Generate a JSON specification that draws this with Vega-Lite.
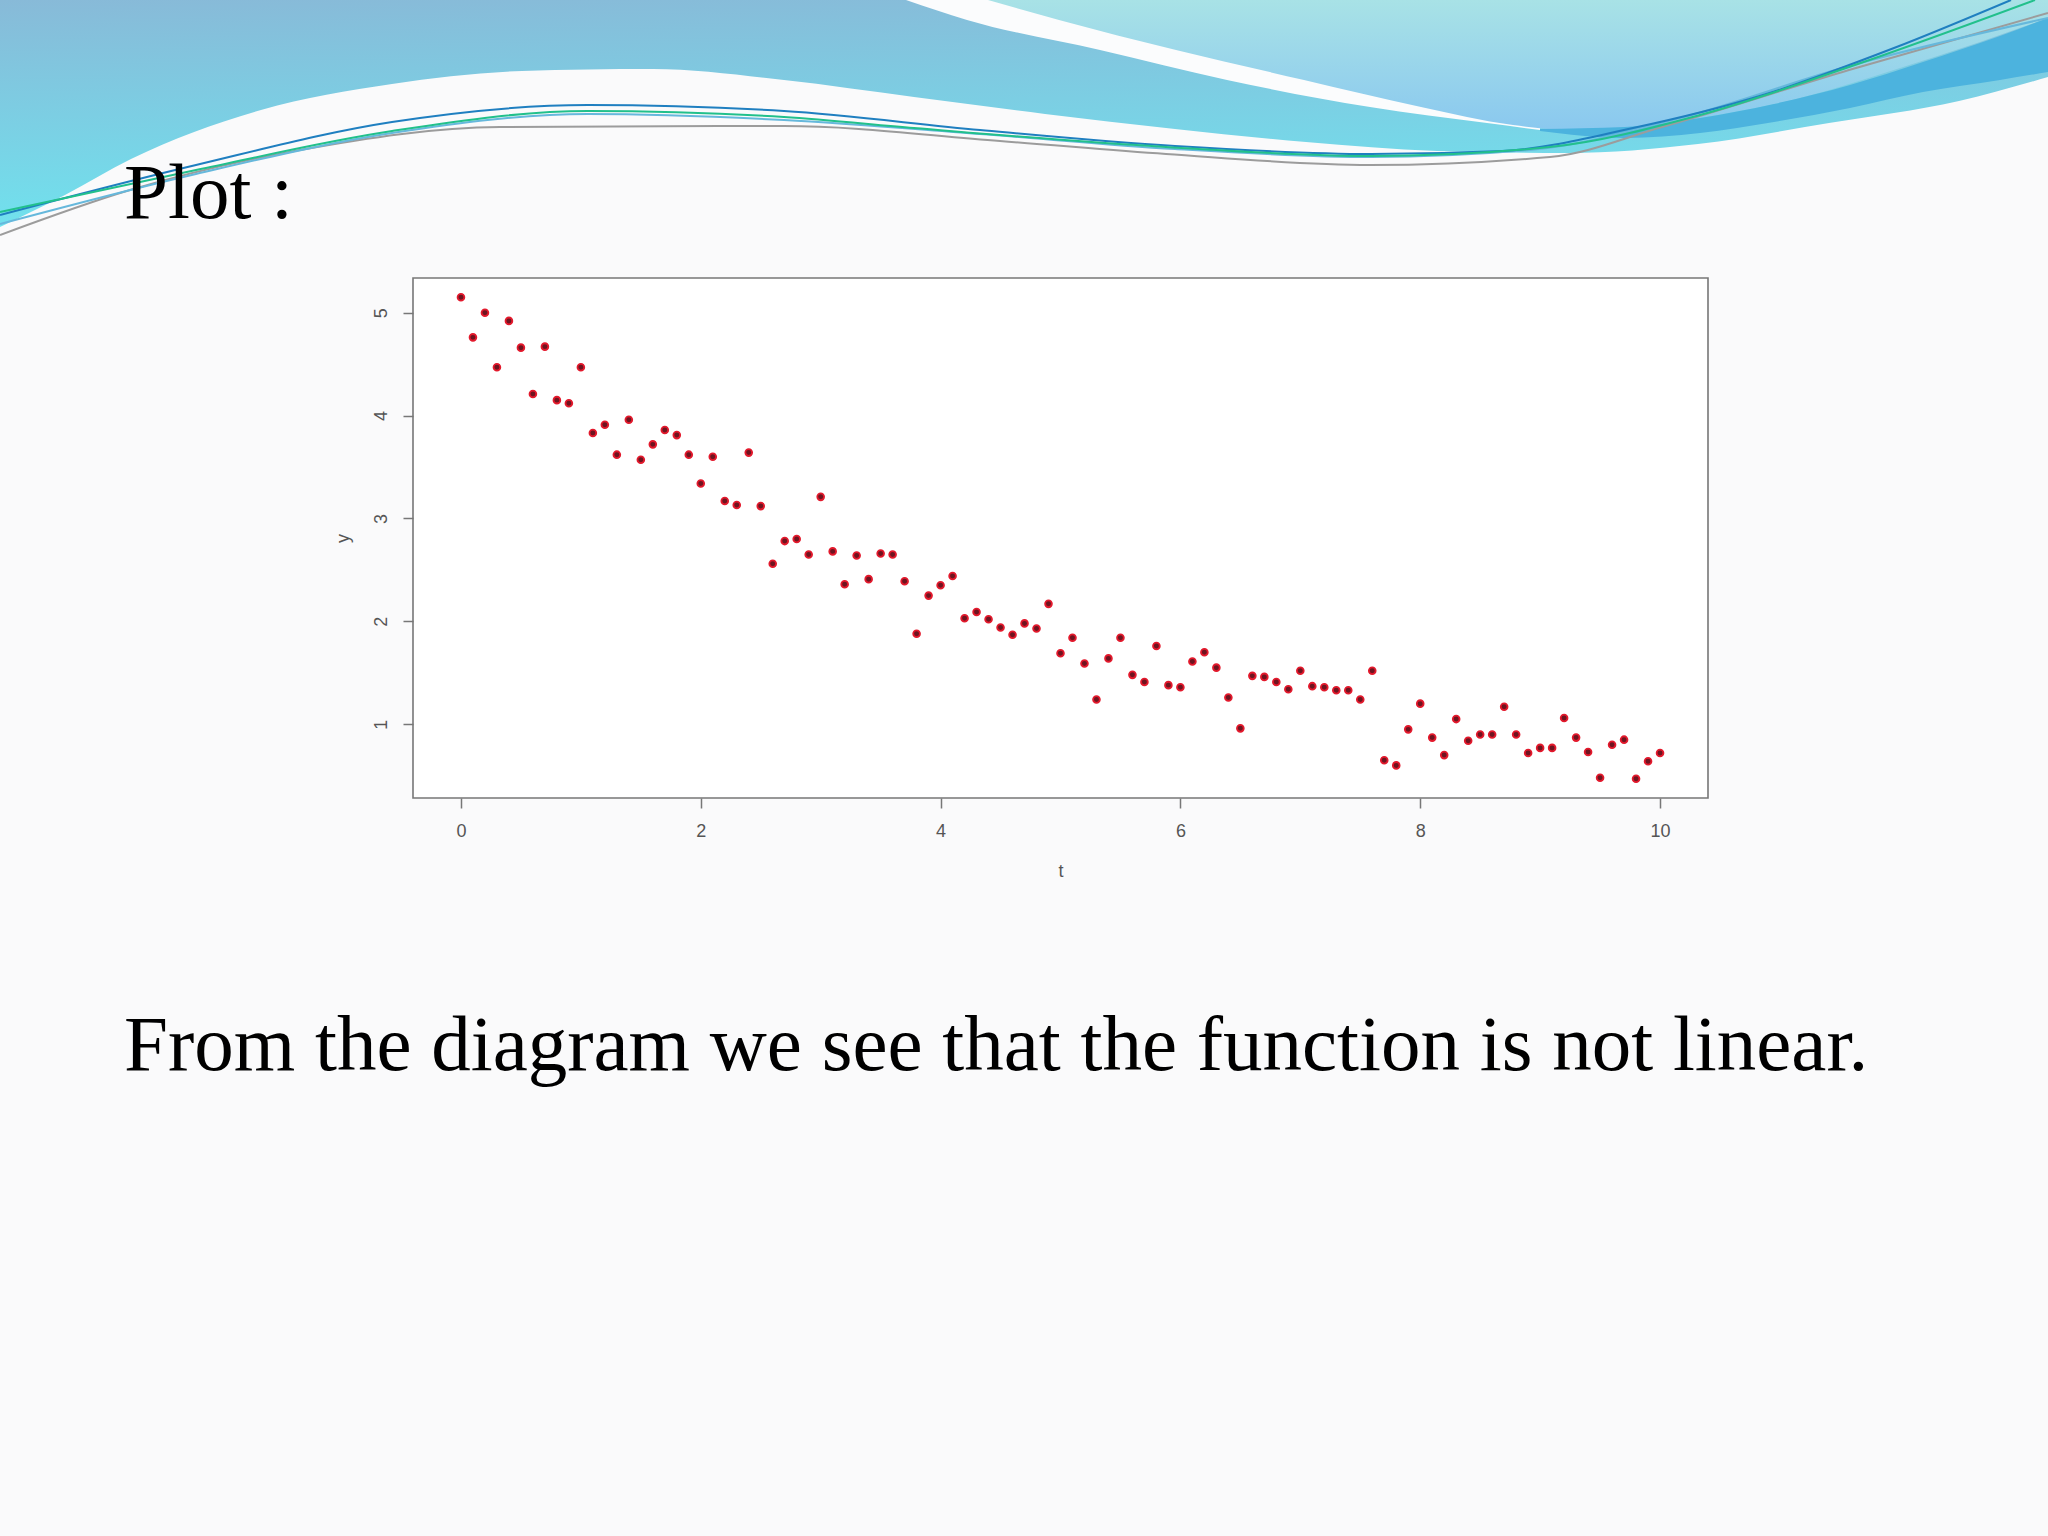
{
  "$schema": "https://vega.github.io/schema/vega-lite/v6.json",
  "autosize": "none",
  "padding": {"left": 413, "top": 278, "right": 340, "bottom": 738},
  "width": 1295,
  "height": 520,
  "background": "#fafafb",
  "config": {
    "view": {"stroke": "#777777", "strokeWidth": 1.6, "fill": "#ffffff"},
    "axis": {
      "domain": false,
      "grid": false,
      "tickSize": 10,
      "tickColor": "#777777",
      "tickWidth": 1.5,
      "labelFont": "Liberation Sans",
      "labelFontSize": 18,
      "labelColor": "#555555",
      "titleFont": "Liberation Sans",
      "titleFontSize": 18,
      "titleFontWeight": "normal",
      "titleColor": "#555555"
    }
  },
  "datasets": {
    "points": [
      {"t": 0.0, "y": 5.15}, {"t": 0.1, "y": 4.76}, {"t": 0.2, "y": 5.0}, {"t": 0.3, "y": 4.47},
      {"t": 0.4, "y": 4.92}, {"t": 0.5, "y": 4.66}, {"t": 0.6, "y": 4.21}, {"t": 0.7, "y": 4.67},
      {"t": 0.8, "y": 4.15}, {"t": 0.9, "y": 4.12}, {"t": 1.0, "y": 4.47}, {"t": 1.1, "y": 3.83},
      {"t": 1.2, "y": 3.91}, {"t": 1.3, "y": 3.62}, {"t": 1.4, "y": 3.96}, {"t": 1.5, "y": 3.57},
      {"t": 1.6, "y": 3.72}, {"t": 1.7, "y": 3.86}, {"t": 1.8, "y": 3.81}, {"t": 1.9, "y": 3.62},
      {"t": 2.0, "y": 3.34}, {"t": 2.1, "y": 3.6}, {"t": 2.2, "y": 3.17}, {"t": 2.3, "y": 3.13},
      {"t": 2.4, "y": 3.64}, {"t": 2.5, "y": 3.12}, {"t": 2.6, "y": 2.56}, {"t": 2.7, "y": 2.78},
      {"t": 2.8, "y": 2.8}, {"t": 2.9, "y": 2.65}, {"t": 3.0, "y": 3.21}, {"t": 3.1, "y": 2.68},
      {"t": 3.2, "y": 2.36}, {"t": 3.3, "y": 2.64}, {"t": 3.4, "y": 2.41}, {"t": 3.5, "y": 2.66},
      {"t": 3.6, "y": 2.65}, {"t": 3.7, "y": 2.39}, {"t": 3.8, "y": 1.88}, {"t": 3.9, "y": 2.25},
      {"t": 4.0, "y": 2.35}, {"t": 4.1, "y": 2.44}, {"t": 4.2, "y": 2.03}, {"t": 4.3, "y": 2.09},
      {"t": 4.4, "y": 2.02}, {"t": 4.5, "y": 1.94}, {"t": 4.6, "y": 1.87}, {"t": 4.7, "y": 1.98},
      {"t": 4.8, "y": 1.93}, {"t": 4.9, "y": 2.17}, {"t": 5.0, "y": 1.69}, {"t": 5.1, "y": 1.84},
      {"t": 5.2, "y": 1.59}, {"t": 5.3, "y": 1.24}, {"t": 5.4, "y": 1.64}, {"t": 5.5, "y": 1.84},
      {"t": 5.6, "y": 1.48}, {"t": 5.7, "y": 1.41}, {"t": 5.8, "y": 1.76}, {"t": 5.9, "y": 1.38},
      {"t": 6.0, "y": 1.36}, {"t": 6.1, "y": 1.61}, {"t": 6.2, "y": 1.7}, {"t": 6.3, "y": 1.55},
      {"t": 6.4, "y": 1.26}, {"t": 6.5, "y": 0.96}, {"t": 6.6, "y": 1.47}, {"t": 6.7, "y": 1.46},
      {"t": 6.8, "y": 1.41}, {"t": 6.9, "y": 1.34}, {"t": 7.0, "y": 1.52}, {"t": 7.1, "y": 1.37},
      {"t": 7.2, "y": 1.36}, {"t": 7.3, "y": 1.33}, {"t": 7.4, "y": 1.33}, {"t": 7.5, "y": 1.24},
      {"t": 7.6, "y": 1.52}, {"t": 7.7, "y": 0.65}, {"t": 7.8, "y": 0.6}, {"t": 7.9, "y": 0.95},
      {"t": 8.0, "y": 1.2}, {"t": 8.1, "y": 0.87}, {"t": 8.2, "y": 0.7}, {"t": 8.3, "y": 1.05},
      {"t": 8.4, "y": 0.84}, {"t": 8.5, "y": 0.9}, {"t": 8.6, "y": 0.9}, {"t": 8.7, "y": 1.17},
      {"t": 8.8, "y": 0.9}, {"t": 8.9, "y": 0.72}, {"t": 9.0, "y": 0.77}, {"t": 9.1, "y": 0.77},
      {"t": 9.2, "y": 1.06}, {"t": 9.3, "y": 0.87}, {"t": 9.4, "y": 0.73}, {"t": 9.5, "y": 0.48},
      {"t": 9.6, "y": 0.8}, {"t": 9.7, "y": 0.85}, {"t": 9.8, "y": 0.47}, {"t": 9.9, "y": 0.64},
      {"t": 10.0, "y": 0.72}
    ],
    "waves": [
      {"shape": "main", "px": 0, "top": 0, "bottom": 227},
      {"shape": "main", "px": 65, "top": 0, "bottom": 195},
      {"shape": "main", "px": 131, "top": 0, "bottom": 159},
      {"shape": "main", "px": 261, "top": 0, "bottom": 110},
      {"shape": "main", "px": 392, "top": 0, "bottom": 84},
      {"shape": "main", "px": 522, "top": 0, "bottom": 71},
      {"shape": "main", "px": 653, "top": 0, "bottom": 69},
      {"shape": "main", "px": 784, "top": 0, "bottom": 80},
      {"shape": "main", "px": 914, "top": 0, "bottom": 97},
      {"shape": "main", "px": 1045, "top": 0, "bottom": 114},
      {"shape": "main", "px": 1175, "top": 0, "bottom": 129},
      {"shape": "main", "px": 1306, "top": 0, "bottom": 142},
      {"shape": "main", "px": 1437, "top": 0, "bottom": 151},
      {"shape": "main", "px": 1567, "top": 0, "bottom": 153},
      {"shape": "main", "px": 1698, "top": 0, "bottom": 144},
      {"shape": "main", "px": 1829, "top": 0, "bottom": 123},
      {"shape": "main", "px": 1959, "top": 0, "bottom": 101},
      {"shape": "main", "px": 2048, "top": 0, "bottom": 77},
      {"shape": "gap", "px": 906, "top": 0, "bottom": 0},
      {"shape": "gap", "px": 967, "top": 0, "bottom": 20},
      {"shape": "gap", "px": 1100, "top": 0, "bottom": 50},
      {"shape": "gap", "px": 1227, "top": 0, "bottom": 80},
      {"shape": "gap", "px": 1370, "top": 0, "bottom": 107},
      {"shape": "gap", "px": 1487, "top": 0, "bottom": 123},
      {"shape": "gap", "px": 1540, "top": 0, "bottom": 130},
      {"shape": "pale", "px": 988, "top": 0, "bottom": 0},
      {"shape": "pale", "px": 1059, "top": 0, "bottom": 20},
      {"shape": "pale", "px": 1176, "top": 0, "bottom": 50},
      {"shape": "pale", "px": 1304, "top": 0, "bottom": 80},
      {"shape": "pale", "px": 1421, "top": 0, "bottom": 107},
      {"shape": "pale", "px": 1513, "top": 0, "bottom": 125},
      {"shape": "pale", "px": 1588, "top": 0, "bottom": 131},
      {"shape": "pale", "px": 1650, "top": 0, "bottom": 126},
      {"shape": "pale", "px": 1700, "top": 0, "bottom": 118},
      {"shape": "pale", "px": 1800, "top": 0, "bottom": 98},
      {"shape": "pale", "px": 1900, "top": 0, "bottom": 68},
      {"shape": "pale", "px": 1980, "top": 0, "bottom": 42},
      {"shape": "pale", "px": 2048, "top": 0, "bottom": 18},
      {"shape": "stripe", "px": 1540, "top": 129, "bottom": 131},
      {"shape": "stripe", "px": 1625, "top": 127, "bottom": 138},
      {"shape": "stripe", "px": 1700, "top": 118, "bottom": 133},
      {"shape": "stripe", "px": 1774, "top": 104, "bottom": 122},
      {"shape": "stripe", "px": 1850, "top": 85, "bottom": 108},
      {"shape": "stripe", "px": 1923, "top": 62, "bottom": 92},
      {"shape": "stripe", "px": 2000, "top": 36, "bottom": 80},
      {"shape": "stripe", "px": 2048, "top": 18, "bottom": 72}
    ],
    "swirls": [
      {"series": "grey", "px": 0, "py": 235}, {"series": "grey", "px": 130, "py": 190},
      {"series": "grey", "px": 300, "py": 150}, {"series": "grey", "px": 500, "py": 127},
      {"series": "grey", "px": 784, "py": 126}, {"series": "grey", "px": 1000, "py": 141},
      {"series": "grey", "px": 1166, "py": 154}, {"series": "grey", "px": 1370, "py": 165},
      {"series": "grey", "px": 1550, "py": 157}, {"series": "grey", "px": 1662, "py": 127},
      {"series": "grey", "px": 1849, "py": 70}, {"series": "grey", "px": 2048, "py": 13},
      {"series": "light", "px": 0, "py": 224}, {"series": "light", "px": 196, "py": 174},
      {"series": "light", "px": 392, "py": 133}, {"series": "light", "px": 588, "py": 114},
      {"series": "light", "px": 784, "py": 120}, {"series": "light", "px": 980, "py": 134},
      {"series": "light", "px": 1175, "py": 149}, {"series": "light", "px": 1371, "py": 157},
      {"series": "light", "px": 1530, "py": 150}, {"series": "light", "px": 1680, "py": 118},
      {"series": "light", "px": 1849, "py": 66}, {"series": "light", "px": 2048, "py": 18},
      {"series": "blue", "px": 0, "py": 215}, {"series": "blue", "px": 196, "py": 165},
      {"series": "blue", "px": 392, "py": 122}, {"series": "blue", "px": 588, "py": 105},
      {"series": "blue", "px": 784, "py": 111}, {"series": "blue", "px": 980, "py": 130},
      {"series": "blue", "px": 1175, "py": 146}, {"series": "blue", "px": 1371, "py": 154},
      {"series": "blue", "px": 1502, "py": 151}, {"series": "blue", "px": 1633, "py": 128},
      {"series": "blue", "px": 1763, "py": 95}, {"series": "blue", "px": 1894, "py": 48},
      {"series": "blue", "px": 2011, "py": 0},
      {"series": "green", "px": 0, "py": 212}, {"series": "green", "px": 196, "py": 170},
      {"series": "green", "px": 392, "py": 131}, {"series": "green", "px": 588, "py": 111},
      {"series": "green", "px": 784, "py": 117}, {"series": "green", "px": 914, "py": 128},
      {"series": "green", "px": 1166, "py": 147}, {"series": "green", "px": 1370, "py": 156},
      {"series": "green", "px": 1550, "py": 147}, {"series": "green", "px": 1700, "py": 115},
      {"series": "green", "px": 1849, "py": 67}, {"series": "green", "px": 2035, "py": 0}
    ]
  },
  "layer": [
    {
      "data": {"name": "points"},
      "mark": {"type": "circle", "size": 46, "fill": "#6e1420", "stroke": "#e3192c", "strokeWidth": 1.8, "opacity": 1},
      "encoding": {
        "x": {
          "field": "t", "type": "quantitative",
          "scale": {"domain": [-0.4, 10.4], "nice": false, "zero": false},
          "axis": {"orient": "bottom", "values": [0, 2, 4, 6, 8, 10], "title": "t", "labelPadding": 14, "titlePadding": 22}
        },
        "y": {
          "field": "y", "type": "quantitative",
          "scale": {"domain": [0.283, 5.337], "nice": false, "zero": false},
          "axis": {"orient": "left", "values": [1, 2, 3, 4, 5], "title": "y", "labelAngle": -90, "labelAlign": "center", "labelBaseline": "bottom", "labelPadding": 13, "titlePadding": 20}
        }
      }
    },
    {
      "layer": [
        {
          "data": {"name": "waves"},
          "transform": [{"filter": "datum.shape == 'main'"}],
          "mark": {
            "type": "area",
            "orient": "vertical",
            "interpolate": "monotone",
            "color": {
              "gradient": "linear", "x1": 0, "y1": 0, "x2": 0.15, "y2": 1,
              "stops": [{"offset": 0, "color": "#88bad8"}, {"offset": 1, "color": "#70e2ee"}]
            }
          },
          "encoding": {
            "x": {"field": "px", "type": "quantitative", "scale": {"domain": [413, 1708], "nice": false, "zero": false}, "axis": null},
            "y": {"field": "bottom", "type": "quantitative", "scale": {"domain": [278, 798], "reverse": true, "nice": false, "zero": false}, "axis": null},
            "y2": {"field": "top"}
          }
        },
        {
          "data": {"name": "waves"},
          "transform": [{"filter": "datum.shape == 'gap'"}],
          "mark": {"type": "area", "orient": "vertical", "interpolate": "monotone", "color": "#fbfcfd"},
          "encoding": {
            "x": {"field": "px", "type": "quantitative", "scale": {"domain": [413, 1708], "nice": false, "zero": false}, "axis": null},
            "y": {"field": "bottom", "type": "quantitative", "scale": {"domain": [278, 798], "reverse": true, "nice": false, "zero": false}, "axis": null},
            "y2": {"field": "top"}
          }
        },
        {
          "data": {"name": "waves"},
          "transform": [{"filter": "datum.shape == 'pale'"}],
          "mark": {
            "type": "area",
            "orient": "vertical",
            "interpolate": "monotone",
            "color": {
              "gradient": "linear", "x1": 0, "y1": 0, "x2": 0, "y2": 1,
              "stops": [{"offset": 0, "color": "#a8e2e6"}, {"offset": 1, "color": "#8ac8ef"}]
            }
          },
          "encoding": {
            "x": {"field": "px", "type": "quantitative", "scale": {"domain": [413, 1708], "nice": false, "zero": false}, "axis": null},
            "y": {"field": "bottom", "type": "quantitative", "scale": {"domain": [278, 798], "reverse": true, "nice": false, "zero": false}, "axis": null},
            "y2": {"field": "top"}
          }
        },
        {
          "data": {"name": "waves"},
          "transform": [{"filter": "datum.shape == 'stripe'"}],
          "mark": {"type": "area", "orient": "vertical", "interpolate": "monotone", "color": "#4cb3de"},
          "encoding": {
            "x": {"field": "px", "type": "quantitative", "scale": {"domain": [413, 1708], "nice": false, "zero": false}, "axis": null},
            "y": {"field": "bottom", "type": "quantitative", "scale": {"domain": [278, 798], "reverse": true, "nice": false, "zero": false}, "axis": null},
            "y2": {"field": "top"}
          }
        },
        {
          "data": {"name": "swirls"},
          "mark": {"type": "line", "interpolate": "monotone", "strokeWidth": 2},
          "encoding": {
            "x": {"field": "px", "type": "quantitative", "scale": {"domain": [413, 1708], "nice": false, "zero": false}, "axis": null},
            "y": {"field": "py", "type": "quantitative", "scale": {"domain": [278, 798], "reverse": true, "nice": false, "zero": false}, "axis": null},
            "color": {
              "field": "series", "type": "nominal", "legend": null,
              "scale": {"domain": ["grey", "light", "blue", "green"], "range": ["#9c9c9c", "#66b8dc", "#1f7fc0", "#22c08c"]}
            }
          }
        },
        {
          "data": {"values": [{"label": "Plot :"}]},
          "mark": {"type": "text", "align": "left", "baseline": "alphabetic", "font": "Liberation Serif", "fontSize": 79, "color": "#000000"},
          "encoding": {
            "x": {"datum": 124, "type": "quantitative", "scale": {"domain": [413, 1708], "nice": false, "zero": false}, "axis": null},
            "y": {"datum": 218, "type": "quantitative", "scale": {"domain": [278, 798], "reverse": true, "nice": false, "zero": false}, "axis": null},
            "text": {"field": "label"}
          }
        },
        {
          "data": {"values": [{"label": "From the diagram we see that the function is not linear."}]},
          "mark": {"type": "text", "align": "left", "baseline": "alphabetic", "font": "Liberation Serif", "fontSize": 79, "color": "#000000"},
          "encoding": {
            "x": {"datum": 124, "type": "quantitative", "scale": {"domain": [413, 1708], "nice": false, "zero": false}, "axis": null},
            "y": {"datum": 1070, "type": "quantitative", "scale": {"domain": [278, 798], "reverse": true, "nice": false, "zero": false}, "axis": null},
            "text": {"field": "label"}
          }
        }
      ]
    }
  ],
  "resolve": {"scale": {"x": "independent", "y": "independent"}}
}
